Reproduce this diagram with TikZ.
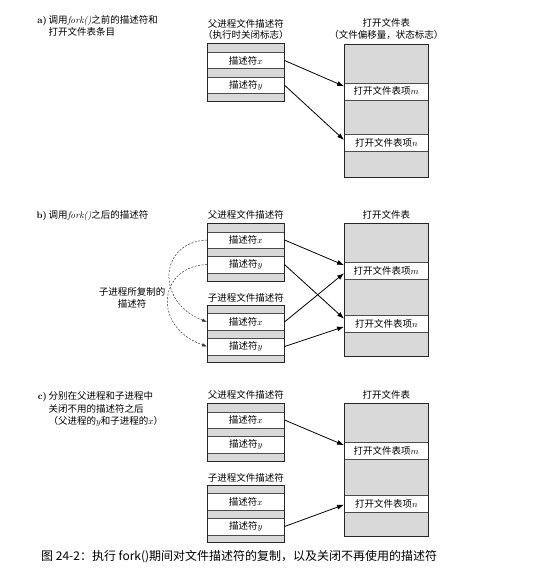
\documentclass[tikz,border=0pt]{standalone}
\usepackage{fontspec}
\newfontfamily\zh{Noto Sans CJK SC}
\usetikzlibrary{arrows.meta}

\begin{document}
\begin{tikzpicture}[x=1pt, y=-1pt,
  font=\zh\fontsize{9.5}{12.5}\selectfont, text=black,
  fdtab/.style={fill=black!15, minimum width=77pt, minimum height=57pt, inner sep=0pt},
  fdrow/.style={draw=black!70, line width=0.5pt, fill=white, minimum width=77pt, minimum height=16.5pt, inner sep=0pt},
  filetab/.style={fill=black!15, minimum width=84pt, minimum height=132.5pt, inner sep=0pt},
  filerow/.style={draw=black!70, line width=0.5pt, fill=white, minimum width=84pt, minimum height=17pt, inner sep=0pt},
  frame/.style={draw=black!85, line width=0.9pt},
  lbl/.style={anchor=north west, align=left, inner sep=0pt},
  ttl/.style={align=center, inner sep=0pt},
  ptr/.style={line width=0.8pt, -{Latex[length=7pt,width=5pt]}},
  dup/.style={line width=0.5pt, black!80, dash pattern=on 2pt off 1.5pt, -{Latex[length=5pt,width=3.5pt]}}]

\useasboundingbox (0,0) rectangle (534,580);

\node[lbl] (la) at (48.3,15) {\llap{\rmfamily\bfseries a)\,}调用{\rmfamily\itshape fork()}之前的描述符和\\打开文件表条目};
\node[lbl] (lb) at (48.3,210) {\llap{\rmfamily\bfseries b)\,}调用{\rmfamily\itshape fork()}之后的描述符};
\node[lbl] (lc) at (48.3,391.5) {\llap{\rmfamily\bfseries c)\,}分别在父进程和子进程中\\关闭不用的描述符之后\\（父进程的$y$和子进程的$x$）};
\node[ttl] (ld) at (132,298) {子进程所复制的\\描述符};

\node[ttl] (pat) at (245.8,29.2) {父进程文件描述符\\[-1pt]（执行时关闭标志）};
\node[fdtab] (pa) at (245.8,72.5) {};
\node[fdrow] (pax) at (245.8,60.5) {描述符$x$};
\node[fdrow] (pay) at (245.8,85.2) {描述符$y$};
\node[ttl] (tat) at (386.3,29.2) {打开文件表\\[-1pt]（文件偏移量，状态标志）};
\node[filetab] (ta) at (386.3,110.7) {};
\node[filerow] (tam) at (386.3,91.3) {打开文件表项$m$};
\node[filerow] (tan) at (386.3,143) {打开文件表项$n$};

\foreach \s/\o in {b/0, c/180} {
  \node[ttl] (\s pt) at (245.8,215+\o) {父进程文件描述符};
  \node[fdtab] (\s p) at (245.8,252.3+\o) {};
  \node[fdrow] (\s px) at (245.8,240+\o) {描述符$x$};
  \node[fdrow] (\s py) at (245.8,264.6+\o) {描述符$y$};
  \node[ttl] (\s ct) at (245.8,297.7+\o) {子进程文件描述符};
  \node[fdtab] (\s c) at (245.8,334.2+\o) {};
  \node[fdrow] (\s cx) at (245.8,321.9+\o) {描述符$x$};
  \node[fdrow] (\s cy) at (245.8,346.5+\o) {描述符$y$};
  \node[ttl] (\s tt) at (386.3,215+\o) {打开文件表};
  \node[filetab] (\s t) at (386.3,290.3+\o) {};
  \node[filerow] (\s tm) at (386.3,270.7+\o) {打开文件表项$m$};
  \node[filerow] (\s tn) at (386.3,323.7+\o) {打开文件表项$n$};
}
\foreach \n in {pa, ta, bp, bc, bt, cp, cc, ct}
  \draw[frame] (\n.north west) rectangle (\n.south east);

\draw[ptr] (pax.east) -- ([yshift=5pt]tam.west);
\draw[ptr] (pay.east) -- ([yshift=3pt]tan.west);
\draw[ptr] (bpx.east) -- ([yshift=5.5pt]btm.west);
\draw[ptr] (bpy.east) -- ([yshift=5pt]btn.west);
\draw[ptr] (bcx.east) -- ([yshift=-2.5pt]btm.west);
\draw[ptr] (bcy.east) -- ([yshift=-3pt]btn.west);
\draw[ptr] (cpx.east) -- ([yshift=5.5pt]ctm.west);
\draw[ptr] (ccy.east) -- ([yshift=-1pt]ctn.west);

\draw[dup] (bpx.west) .. controls +(-48,2) and +(-52,-20) .. (bcx.west);
\draw[dup] (bpy.west) .. controls +(-48,1) and +(-56,-20) .. (bcy.west);

\node[anchor=west, inner sep=0pt, font=\zh\fontsize{12}{14}\selectfont] (cap) at (41,557) {图 24-2：执行 fork()期间对文件描述符的复制，以及关闭不再使用的描述符};
\end{tikzpicture}
\end{document}
